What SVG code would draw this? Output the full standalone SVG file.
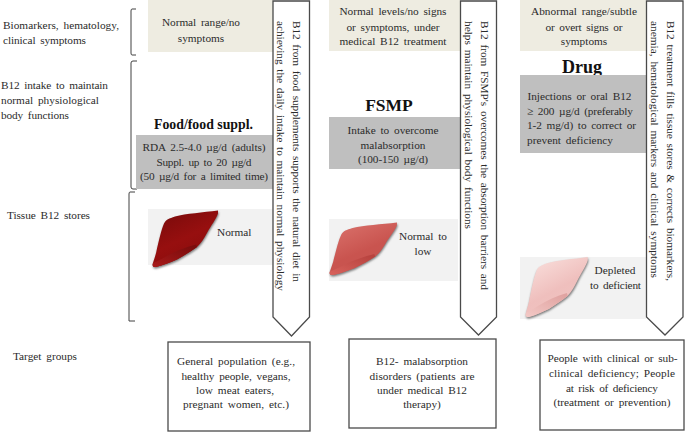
<svg xmlns="http://www.w3.org/2000/svg" width="685" height="433" viewBox="0 0 685 433">
<style>
text{font-family:"Liberation Serif","Times New Roman",serif;font-size:11.3px;fill:#2b2b2b;word-spacing:2px}
.c{text-anchor:middle}
.h{font-weight:bold;fill:#111;word-spacing:0}
.beige{fill:#eeece1}.grey{fill:#bfbfbf}.pale{fill:#f2f2f2}
.arrow{fill:#fff;stroke:#4a4a4a;stroke-width:1.3}
.box{fill:#fff;stroke:#4a4a4a;stroke-width:1.3}
.br{fill:none;stroke:#404040;stroke-width:1}
</style>
<defs>
<path id="liver" d="M65 0C50 2 33 3 22 6C16 8 13 9 11 13C8 20 6 30 4 38C3 44 1 49 0 52.500C-1 55 0 57 3 56.500C10 55 17 52 24 49C31 45 38 41 44 36.500C48 33 51 28 54 22.500C58 15 63 9 65 3Z"/>
<path id="lobe" d="M0 52.500C-1 55 0 57 3 56.500C10 55 17 52 24 49C31 45 38 41 44 36.500L43 34C32 37 22 41 13 46C8 49 4 51 0 52.500Z"/>
<linearGradient id="r1" x1="0.2" y1="0" x2="0.7" y2="0.9"><stop offset="0" stop-color="#7a0b0b"/><stop offset="0.55" stop-color="#970f0f"/><stop offset="1" stop-color="#8a0c0c"/></linearGradient>
<linearGradient id="l1" x1="0" y1="1" x2="0.8" y2="0"><stop offset="0" stop-color="#a81a1a"/><stop offset="1" stop-color="#7a0c0c"/></linearGradient>
<linearGradient id="r2" x1="0.2" y1="0" x2="0.7" y2="0.9"><stop offset="0" stop-color="#d9706a"/><stop offset="0.6" stop-color="#c9544f"/><stop offset="1" stop-color="#c65450"/></linearGradient>
<linearGradient id="l2" x1="0" y1="1" x2="0.8" y2="0"><stop offset="0" stop-color="#d8635d"/><stop offset="1" stop-color="#b8433f"/></linearGradient>
<linearGradient id="r3" x1="0.2" y1="0" x2="0.7" y2="0.9"><stop offset="0" stop-color="#f9dedb"/><stop offset="0.6" stop-color="#efbfbd"/><stop offset="1" stop-color="#f0c4c1"/></linearGradient>
<linearGradient id="l3" x1="0" y1="1" x2="0.8" y2="0"><stop offset="0" stop-color="#f3c9c6"/><stop offset="1" stop-color="#e0a3a1"/></linearGradient>
<filter id="soft" x="-10%" y="-10%" width="125%" height="125%"><feGaussianBlur stdDeviation="0.9"/></filter>
</defs>

<g id="row-labels">
<text x="3" y="29" textLength="116">Biomarkers, hematology,</text>
<text x="3" y="44" textLength="83">clinical symptoms</text>
<text x="1" y="89" textLength="107">B12 intake to maintain</text>
<text x="1" y="104" textLength="98">normal physiological</text>
<text x="1" y="119" textLength="68">body functions</text>
<text x="7" y="219" textLength="83">Tissue B12 stores</text>
<text x="13" y="360" textLength="64">Target groups</text>
</g>

<g id="connectors">
<path class="br" d="M136 9H132Q131 9 131 11V53Q131 55 132 55H136"/>
<path class="br" d="M137 61H133Q131 61 131 63V187Q131 189 133 189H137"/>
<path class="br" d="M135 192H130Q129 192 129 194V321H135"/>
</g>

<g id="food-col">
<rect class="beige" x="148" y="0" width="125" height="52"/>
<text class="c" x="201" y="26" textLength="78">Normal range/no</text>
<text class="c" x="201" y="42">symptoms</text>
<text class="c h" x="203.500" y="129" style="font-size:13.800px">Food/food suppl.</text>
<rect class="grey" x="136" y="135" width="137" height="54"/>
<text class="c" x="204" y="151" textLength="123">RDA 2.5-4.0 µg/d (adults)</text>
<text class="c" x="204" y="166" textLength="95">Suppl. up to 20 µg/d</text>
<text class="c" x="204" y="180" textLength="128">(50 µg/d for a limited time)</text>
<rect class="pale" x="148" y="209" width="125" height="56"/>
<use href="#liver" x="153" y="210.500" fill="#777" filter="url(#soft)" transform="translate(0.500 1.500)"/>
<use href="#liver" x="153" y="210.500" fill="url(#r1)"/>
<use href="#lobe" x="153" y="210.500" fill="url(#l1)"/>
<text x="217" y="236">Normal</text>
</g>
<g id="food-arrow">
<path class="arrow" d="M273 1H309.500V317L291.500 336L273 317Z"/>
<text transform="translate(293 21) rotate(90)" textLength="261">B12 from food supplements supports the natural diet in</text>
<text transform="translate(277 21) rotate(90)" textLength="270">achieving the daily intake to maintain normal physiology</text>
</g>
<g id="food-target">
<rect class="box" x="168" y="342" width="142" height="89"/>
<text class="c" x="236" y="365" textLength="118">General population (e.g.,</text>
<text class="c" x="236" y="380" textLength="109">healthy people, vegans,</text>
<text class="c" x="235" y="394" textLength="78">low meat eaters,</text>
<text class="c" x="236" y="408" textLength="106">pregnant women, etc.)</text>
</g>

<g id="fsmp-col">
<rect class="beige" x="329" y="0" width="131" height="51"/>
<text class="c" x="393" y="15" textLength="107">Normal levels/no signs</text>
<text class="c" x="393" y="31" textLength="93">or symptoms, under</text>
<text class="c" x="393" y="45" textLength="107">medical B12 treatment</text>
<text class="c h" x="389" y="111" style="font-size:17.500px">FSMP</text>
<rect class="grey" x="329" y="117" width="131" height="52"/>
<text class="c" x="393" y="134" textLength="91">Intake to overcome</text>
<text class="c" x="393" y="149" textLength="65">malabsorption</text>
<text class="c" x="393" y="163" textLength="70">(100-150 µg/d)</text>
<rect class="pale" x="329" y="219" width="129" height="62"/>
<g transform="translate(330 222.500) scale(1.030 0.930)">
<use href="#liver" fill="#777" filter="url(#soft)" transform="translate(0.500 1.500)"/>
<use href="#liver" fill="url(#r2)"/>
<use href="#lobe" fill="url(#l2)"/>
</g>
<text class="c" x="423" y="240" textLength="48">Normal to</text>
<text class="c" x="423" y="255">low</text>
</g>
<g id="fsmp-arrow">
<path class="arrow" d="M460.500 1H496.500V317L478.500 335L460.500 317Z"/>
<text transform="translate(481 21) rotate(90)" textLength="269">B12 from FSMP's overcomes the absorption barriers and</text>
<text transform="translate(465 21) rotate(90)" textLength="208">helps maintain physiological body functions</text>
</g>
<g id="fsmp-target">
<rect class="box" x="349" y="339" width="147" height="89"/>
<text class="c" x="422" y="365" textLength="92">B12- malabsorption</text>
<text class="c" x="422" y="380" textLength="105">disorders (patients are</text>
<text class="c" x="422" y="394" textLength="90">under medical B12</text>
<text class="c" x="422" y="408">therapy)</text>
</g>

<g id="drug-col">
<rect class="beige" x="520" y="0" width="126" height="51"/>
<text class="c" x="584" y="15" textLength="106">Abnormal range/subtle</text>
<text class="c" x="584" y="31" textLength="77">or overt signs or</text>
<text class="c" x="584" y="45">symptoms</text>
<text class="c h" x="582" y="73" style="font-size:18px">Drug</text>
<rect class="grey" x="520" y="75" width="126" height="78"/>
<text x="527.500" y="100" textLength="104">Injections or oral B12</text>
<text x="527" y="115" textLength="106">≥ 200 µg/d (preferably</text>
<text x="527" y="129" textLength="109">1-2 mg/d) to correct or</text>
<text x="527" y="144" textLength="86">prevent deficiency</text>
<rect class="pale" x="520" y="257" width="126" height="62"/>
<g transform="translate(526 257) scale(0.950 1.060)">
<use href="#liver" fill="#777" filter="url(#soft)" transform="translate(0.500 1.500)"/>
<use href="#liver" fill="url(#r3)"/>
<use href="#lobe" fill="url(#l3)"/>
</g>
<text class="c" x="615" y="274">Depleted</text>
<text class="c" x="615.500" y="289" textLength="51">to deficient</text>
</g>
<g id="drug-arrow">
<path class="arrow" d="M646.500 1H683V317L665 335L646.500 317Z"/>
<text transform="translate(667 21) rotate(90)" textLength="260">B12 treatment fills tissue stores &amp; corrects biomarkers,</text>
<text transform="translate(651 21) rotate(90)" textLength="257">anemia, hematological markers and clinical symptoms</text>
</g>
<g id="drug-target">
<rect class="box" x="540" y="340" width="144" height="90"/>
<text class="c" x="612.500" y="362" textLength="130">People with clinical or sub-</text>
<text class="c" x="612" y="377" textLength="126">clinical deficiency; People</text>
<text class="c" x="612" y="392" textLength="92">at risk of deficiency</text>
<text class="c" x="612" y="406" textLength="117">(treatment or prevention)</text>
</g>
</svg>
